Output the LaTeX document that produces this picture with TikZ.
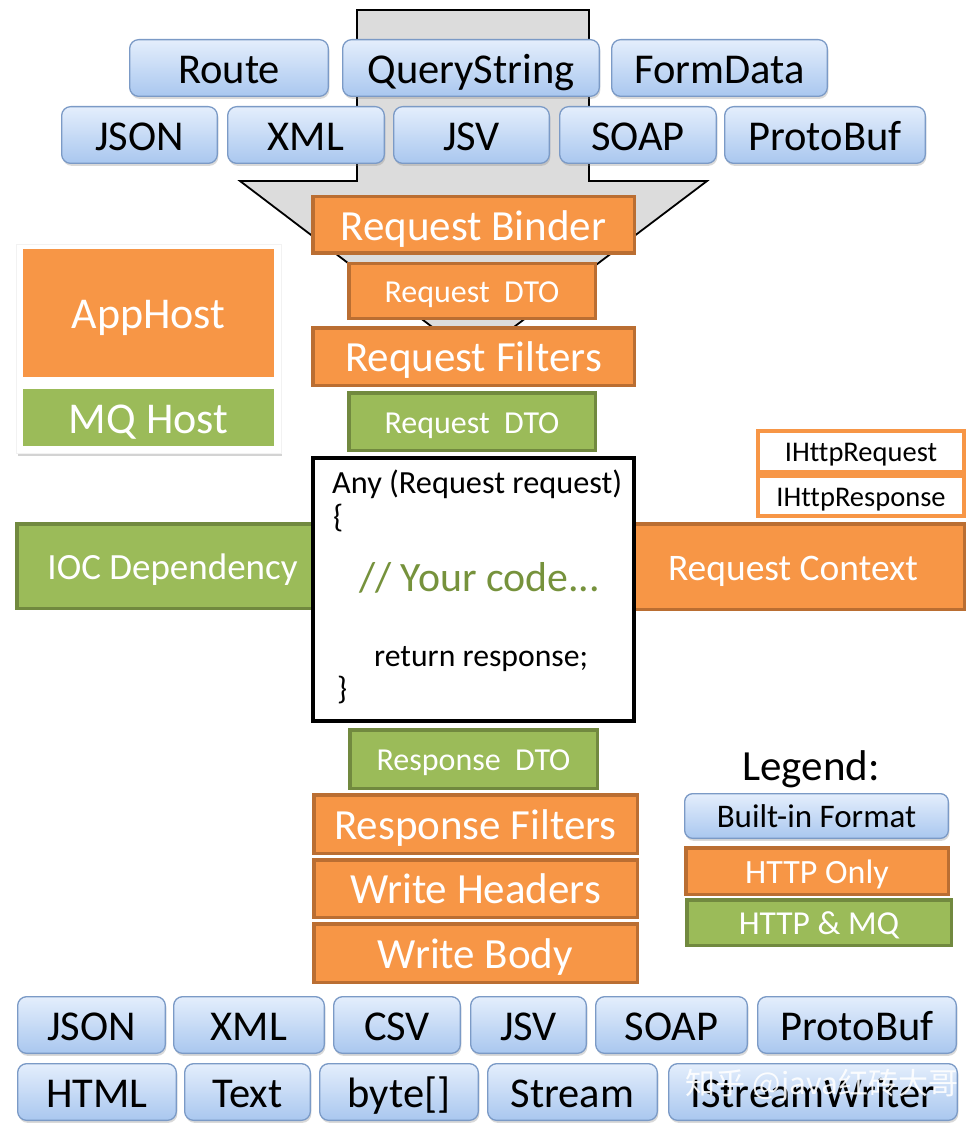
\documentclass[tikz,border=0pt]{standalone}
\usepackage{fontspec}
\setmainfont{Carlito}[Ligatures={NoCommon}]
\newfontfamily\cjk{Noto Sans CJK SC}
\usetikzlibrary{shadows}
\definecolor{bluetop}{HTML}{E4EEFC}
\definecolor{bluebot}{HTML}{A9C7EF}
\definecolor{blueline}{HTML}{7B9AC6}
\definecolor{orfill}{HTML}{F79646}
\definecolor{ordraw}{HTML}{BA6E32}
\definecolor{grfill}{HTML}{9BBB59}
\definecolor{grdraw}{HTML}{71893F}
\definecolor{codegreen}{HTML}{76923C}
\definecolor{arrowgray}{HTML}{DCDCDC}
\newcommand\fs[1]{\fontsize{#1}{#1}\selectfont}
% \bx{name}{x1}{y1}{x2}{y2}{style}{text}
\newcommand\bx[7]{\node[#6, minimum width={(#4-#2)*1pt-\pgflinewidth}, minimum height={(#5-#3)*1pt-\pgflinewidth}] (#1) at ({(#2+#4)/2},{(#3+#5)/2}) {#7};}
\tikzset{
  fsz/.code={\pgfmathsetmacro\lblh{0.92*#1}\pgfmathsetmacro\lbld{0.2*#1}%
    \edef\lbltmp{\noexpand\tikzset{font=\noexpand\fs{#1}, text height=\lblh pt, text depth=\lbld pt}}\lbltmp},
  fmt/.style={inner sep=0pt, draw=blueline, line width=1.3pt, rounded corners=9pt, top color=bluetop, bottom color=bluebot,
    drop shadow={opacity=0.3, shadow xshift=1pt, shadow yshift=-2.5pt}, text=black, fsz=42.5},
  orbox/.style={inner sep=0pt, draw=ordraw, fill=orfill, line width=3.5pt, text=white, fsz=43},
  grbox/.style={inner sep=0pt, draw=grdraw, fill=grfill, line width=3.5pt, text=white, fsz=43},
  plainor/.style={inner sep=0pt, fill=orfill, text=white, fsz=44},
  plaingr/.style={inner sep=0pt, fill=grfill, text=white, fsz=44},
  ihttp/.style={inner sep=0pt, draw=orfill, fill=white, line width=4pt, text=black, fsz=28.5},
  codebox/.style={draw=black, fill=white, line width=4pt, inner sep=0pt},
  codetxt/.style={anchor=base west, inner sep=0pt, text=black},
}
\begin{document}
\begin{tikzpicture}[x=1pt,y=-1pt]
\useasboundingbox (0,0) rectangle (979,1131);
% big gray arrow
\draw[fill=arrowgray, line width=1.8pt, line join=miter]
  (357,10) -- (589,10) -- (589,181) -- (707,181) -- (473,358) -- (240,181) -- (357,181) -- cycle;
% top formats
\bx{route}{129}{39}{329}{97}{fmt}{Route}
\bx{qs}{342}{39}{600}{97}{fmt}{QueryString}
\bx{fd}{611}{39}{828}{97}{fmt}{FormData}
\bx{json1}{61}{106}{218}{164}{fmt}{JSON}
\bx{xml1}{227}{106}{385}{164}{fmt}{XML}
\bx{jsv1}{393}{106}{550}{164}{fmt}{JSV}
\bx{soap1}{559}{106}{717}{164}{fmt}{SOAP}
\bx{pb1}{724}{106}{926}{164}{fmt}{ProtoBuf}
% pipeline
\bx{binder}{311}{195}{636}{255}{orbox}{Request Binder}
\bx{rdto1}{347}{262}{597}{320}{orbox,fsz=32}{Request\ \ DTO}
\bx{rfilt}{311}{326}{636}{387}{orbox}{Request Filters}
\bx{rdto2}{347}{391}{597}{452}{grbox,fsz=32}{Request\ \ DTO}
% hosts panel
\bx{panel}{16}{244}{281}{453}{fill=white, draw=gray!10, line width=0.5pt, drop shadow={opacity=0.35, shadow xshift=1.5pt, shadow yshift=-3pt}}{}
\bx{apphost}{23}{249}{274}{377}{plainor}{AppHost}
\bx{mqhost}{23}{389}{274}{446}{plaingr}{MQ Host}
% side boxes
\bx{ioc}{15}{522}{330}{610}{grbox,fsz=37}{IOC Dependency}
\bx{rctx}{620}{522}{966}{611}{orbox,fsz=37.5}{Request Context}
\bx{ireq}{756}{429}{966}{474}{ihttp}{IHttpRequest}
\bx{ires}{756}{474}{966}{518}{ihttp}{IHttpResponse}
% code box
\bx{code}{311}{456}{636}{723}{codebox}{}
\node[codetxt, font=\fs{32.3}] (l1) at (332,493) {Any (Request request)};
\node[codetxt, font=\fs{32.3}] (l2) at (333,527) {\{};
\node[codetxt, font=\fs{41.8}, text=codegreen] (l3) at (359,591) {// Your code...};
\node[codetxt, font=\fs{31.7}] (l4) at (374,666) {return response;};
\node[codetxt, font=\fs{32.3}] (l5) at (337,699) {\}};
% response pipeline
\bx{respdto}{348}{728}{599}{790}{grbox,fsz=32}{Response\ \ DTO}
\bx{respfilt}{312}{793}{639}{855}{orbox}{Response Filters}
\bx{wh}{312}{858}{639}{919}{orbox}{Write Headers}
\bx{wb}{312}{922}{639}{984}{orbox}{Write Body}
% legend
\node[inner sep=0pt, fsz=43] (legend) at (811,765) {Legend:};
\bx{lgblue}{684}{793}{949}{839}{fmt,fsz=33,rounded corners=8pt}{Built-in Format}
\bx{lgor}{684}{846}{950}{896}{orbox,fsz=34}{HTTP Only}
\bx{lggr}{685}{898}{953}{947}{grbox,fsz=33.5}{HTTP \& MQ}
% bottom formats
\bx{json2}{17}{996}{166}{1054}{fmt}{JSON}
\bx{xml2}{173}{996}{325}{1054}{fmt}{XML}
\bx{csv2}{333}{996}{461}{1054}{fmt}{CSV}
\bx{jsv2}{470}{996}{587}{1054}{fmt}{JSV}
\bx{soap2}{595}{996}{748}{1054}{fmt}{SOAP}
\bx{pb2}{757}{996}{957}{1054}{fmt}{ProtoBuf}
\bx{html2}{17}{1063}{177}{1121}{fmt}{HTML}
\bx{text2}{184}{1063}{311}{1121}{fmt}{Text}
\bx{bytes2}{319}{1063}{479}{1121}{fmt}{byte[]}
\bx{stream2}{487}{1063}{658}{1121}{fmt}{Stream}
\bx{isw2}{668}{1063}{958}{1121}{fmt}{IStreamWriter}
% watermark
\node[font=\cjk\fs{30}, text=white, opacity=0.9, inner sep=0pt] (wm) at (822,1086) {知乎 @java红砖大哥};
\end{tikzpicture}
\end{document}
